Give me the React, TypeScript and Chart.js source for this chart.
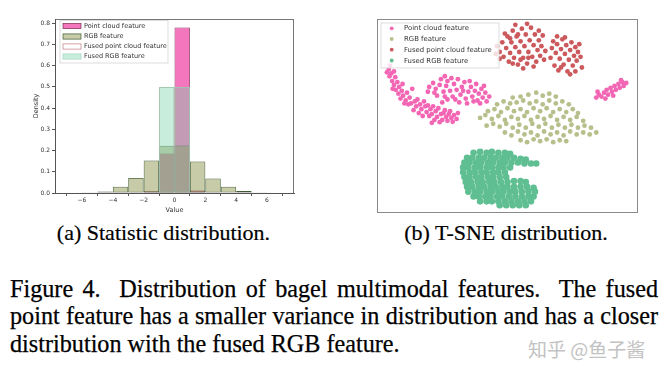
import React, { useEffect, useRef } from "react";
import { Chart, registerables } from "chart.js";
Chart.register(...registerables);

// ---------- Histogram data (bin width 1, bins from -7 to 7) ----------
const binCenters = [-6.5, -5.5, -4.5, -3.5, -2.5, -1.5, -0.5, 0.5, 1.5, 2.5, 3.5, 4.5, 5.5, 6.5];
const pointCloudDensity = [0, 0, 0.001, 0.003, 0.004, 0.008, 0.186, 0.78, 0.012, 0.004, 0.002, 0.001, 0, 0];
const rgbDensity = [0.002, 0.003, 0.007, 0.03, 0.071, 0.153, 0.223, 0.224, 0.149, 0.068, 0.03, 0.01, 0.004, 0.002];
const fusedPointDensity = [0, 0, 0, 0, 0, 0, 0.5, 0.5, 0, 0, 0, 0, 0, 0];
const fusedRgbDensity = [0, 0, 0, 0, 0, 0, 0.5, 0.5, 0, 0, 0, 0, 0, 0];
const histLabels = ["Point cloud feature", "RGB feature", "Fused point cloud feature", "Fused RGB feature"];
const xTickValues = [-6, -4, -2, 0, 2, 4, 6];
const yTickValues = [0, 0.1, 0.2, 0.3, 0.4, 0.5, 0.6, 0.7, 0.8];

// ---------- T-SNE embedding (hand-read, arbitrary units 0..100) ----------
const tsnePointCloud: [number, number][] = [
  [4.5, 74], [5.5, 72], [4.8, 70.5], [6.5, 73], [7, 70], [5.8, 68], [7.8, 67.5], [6.5, 66], [8.5, 65], [7.2, 63.5],
  [9.5, 63], [8.2, 61.5], [10, 60.5], [11.5, 62], [9, 59], [11, 58], [12.5, 59.5], [13.5, 64],
  [5, 76], [3.8, 72.5], [6, 64], [9.8, 66.5], [10.5, 56.5],
  [13, 56.5], [14.5, 57.5], [15, 55], [16.5, 56], [17, 53.5], [18.5, 55], [19, 52], [20.5, 53.5], [21, 51], [22.5, 52.5],
  [23, 49.5], [24.5, 51], [25, 48], [26.5, 49.5], [27, 47.5], [28.5, 49], [29.5, 50.5], [30.5, 48.5], [22, 48], [24, 46.8],
  [26, 53], [28, 52.5], [20, 50], [16, 51.5], [14, 53],
  [15.5, 58.5], [18, 57.5], [17.5, 50], [19.5, 55.5], [21.5, 55], [23.5, 54], [25.5, 51.5], [27.5, 51], [29, 47], [31, 51.5],
  [12, 56], [21, 46.5],
  [20, 65], [21.5, 67], [22.5, 64], [24, 66], [24.5, 69], [25.5, 62.5], [26.5, 65.5], [27, 68], [28, 63], [29, 60],
  [29.5, 66.5], [30.5, 63.5], [31, 69], [32, 61], [32.5, 65], [33.5, 67.5], [34, 59], [35, 62.5], [36, 65], [36.5, 60],
  [37.5, 63], [38.5, 58], [39, 61.5], [40, 64], [40.5, 59.5], [41.5, 62], [42, 57.5], [38, 66.5], [27, 58.5], [31.5, 57],
  [34.5, 56.5], [23, 60.5], [25, 57],
  [22, 62], [26, 60], [28.5, 69.5], [30, 58.5], [33, 63], [35.5, 68], [37, 57.5], [39.5, 56.5], [41, 65.5], [43, 60],
  [19.5, 62.5], [26, 70.5],
  [84, 59.5], [85, 61], [84.5, 62.5], [86, 60], [87, 62], [88, 63.5], [88.5, 61], [89.5, 64.5], [90, 62.5], [91, 65.5],
  [91.5, 63.5], [92.5, 66.5], [93, 64.5], [94, 67.5], [94.5, 65.5], [95.5, 67], [93.5, 68.5], [90.5, 60.5], [87.5, 59],
];
const tsneRgb: [number, number][] = [
  [52, 59.5], [55, 60], [58, 61], [61, 62], [63.5, 60.5], [66, 61.5], [68.5, 60],
  [46, 56], [48.5, 57.5], [51, 56.5], [53.5, 57], [56, 58], [58.5, 56.5], [61, 57.5], [63.5, 56], [66, 58], [68.5, 56.5],
  [71, 57.5], [73.5, 56],
  [42.5, 52.5], [45, 53.5], [47.5, 52], [50, 54], [52.5, 52.5], [55, 53.5], [57.5, 52], [60, 54], [62.5, 52.5], [65, 54],
  [67.5, 52], [70, 53.5], [72.5, 52], [75, 53.5], [77, 51.5],
  [39.5, 49], [41.5, 50.5], [44, 48.5], [46.5, 50], [49, 48], [51.5, 49.5], [54, 48.5], [56.5, 50], [59, 48], [61.5, 49.5],
  [64, 48.5], [66.5, 50], [69, 48], [71.5, 49.5], [74, 48], [76.5, 49.5], [79, 47.5],
  [42, 45], [44.5, 46], [47, 44.5], [49.5, 46], [52, 44], [54.5, 45.5], [57, 44], [59.5, 46], [62, 44.5], [64.5, 46],
  [67, 44], [69.5, 45.5], [72, 44], [74.5, 45.5], [77, 44], [79.5, 45], [82, 44],
  [49, 41.5], [51.5, 40], [54, 42], [56.5, 40.5], [59, 41.5], [61.5, 40], [64, 42], [66.5, 40.5], [69, 41.5], [71.5, 40],
  [74, 42], [76.5, 40.5], [79, 41.5], [81.5, 40.5], [84, 41.5],
  [55, 37.5], [57.5, 36.5], [60, 38], [62.5, 37], [65, 38], [67.5, 36.5], [70, 37.5], [72.5, 37],
];
const tsneFusedPoint: [number, number][] = [
  [46, 86], [47, 83], [48, 88], [48.5, 80.5], [49.5, 85], [50, 91], [50.5, 78], [51, 82.5], [51.5, 88], [52, 94],
  [52.5, 80], [53, 85.5], [53.5, 91], [54, 76.5], [54.5, 83], [55, 88.5], [55.5, 95], [56, 80], [56.5, 86], [57, 92],
  [57.5, 77], [58, 83], [58.5, 89], [59, 95.5], [59.5, 80.5], [60, 86.5], [60.5, 92], [61, 78], [61.5, 84], [62, 89],
  [62.5, 81], [63, 86], [63.5, 91.5], [64, 79], [64.5, 83.5], [53, 97], [57.5, 97.5], [49, 92.5], [55, 79], [60, 75.5],
  [56, 74.5], [52, 77], [58, 80], [51, 90], [62, 94], [54, 92], [47, 79.5], [45.5, 82],
  [66.5, 80], [67, 85], [67.5, 88.5], [68, 76], [68.5, 82.5], [69, 87], [69.5, 73.5], [70, 79.5], [70.5, 84.5], [71, 89.5],
  [71.5, 76.5], [72, 82], [72.5, 86.5], [73, 73], [73.5, 79], [74, 84], [74.5, 88], [75, 76], [75.5, 81], [76, 85.5],
  [76.5, 78.5], [77, 83], [77.5, 87], [78, 80.5], [78.5, 75], [72, 90.5], [69, 91], [74, 71.5], [76, 73], [70.5, 75],
];
const tsneFusedRgb: [number, number][] = [
  [37, 31], [39.5, 31.5], [42, 31], [44, 31.5], [46.5, 31], [49, 31], [51, 30.5],
  [34.5, 28.5], [36.5, 28.5], [39, 28.5], [41, 28.5], [43.5, 28.5], [45.5, 28.5], [48, 28.5], [50, 28.5], [52.5, 28.5], [55, 28], [57, 27.5],
  [33.5, 26], [35.5, 26], [38, 26], [40, 26], [42.5, 26], [44.5, 26], [47, 26], [49, 26], [51.5, 26], [54, 26], [56.5, 25.5], [59, 25.5], [61, 25.5],
  [33, 23.5], [35, 23.5], [37.5, 23.5], [39.5, 23.5], [42, 23.5], [44, 23.5], [46.5, 23.5], [48.5, 23.5], [51, 23.5],
  [33, 21], [35.5, 21], [37.5, 21], [40, 21], [42, 21], [44.5, 21], [46.5, 21], [49, 21],
  [33.5, 18.5], [35.5, 18.5], [38, 18.5], [40, 18.5], [42.5, 18.5], [44.5, 18.5], [47, 18.5], [49.5, 18.5],
  [34, 16], [36, 16], [38.5, 16], [40.5, 16], [43, 16], [45, 16], [47.5, 16], [50, 16], [52.5, 16.5], [55, 16.5], [57, 16],
  [34.5, 13.5], [36.5, 13.5], [39, 13.5], [41, 13.5], [43.5, 13.5], [45.5, 13.5], [48, 13.5], [50, 13.5], [52.5, 13.5], [55, 13.5], [57.5, 13.5], [60, 13],
  [35, 11], [37.5, 11], [39.5, 11], [42, 11], [44, 11], [46.5, 11], [48.5, 11], [51, 11], [53, 11], [55.5, 11], [58, 11], [60.5, 11],
  [37, 8.5], [39, 8.5], [41.5, 8.5], [43.5, 8.5], [46, 8.5], [48, 8.5], [50.5, 8.5], [53, 8.5], [55.5, 8.5], [58, 8.5], [60, 8.5],
  [39.5, 6], [42, 6], [44, 6], [46.5, 6], [49, 6], [51.5, 6], [54, 6], [56.5, 6], [59, 6],
  [47, 4], [49.5, 4], [52, 4], [54.5, 4], [57, 4],
];
const tsneLabels = ["Point cloud feature", "RGB feature", "Fused point cloud feature", "Fused RGB feature"];

const HIST_FILL = ["rgba(240,60,160,0.7)", "rgba(130,140,60,0.45)", "rgba(255,255,255,0)", "rgba(120,210,170,0.4)"];
const HIST_EDGE = ["#7a2f52", "#3f5a35", "#c07a80", "#9fd6bf"];
const TSNE_COLORS = ["#f266b4", "#b7bf8b", "#cc5a5d", "#5fbf92"];

const minus = (v: number) => (v < 0 ? "\u2212" + Math.abs(v) : String(v));

function HistChart() {
  const ref = useRef<HTMLCanvasElement>(null);
  useEffect(() => {
    const series = [pointCloudDensity, rgbDensity, fusedPointDensity, fusedRgbDensity];
    const decor = {
      id: "histDecor",
      afterDraw(chart: any) {
        const ctx = chart.ctx;
        const a = chart.chartArea;
        ctx.save();
        ctx.strokeStyle = "#555";
        ctx.lineWidth = 0.8;
        ctx.strokeRect(a.left + 0.5, a.top + 0.5, a.right - a.left - 1, a.bottom - a.top);
        ctx.fillStyle = "#333";
        ctx.font = "6.5px 'DejaVu Sans'";
        ctx.textAlign = "center";
        ctx.textBaseline = "middle";
        ctx.fillText("Value", (a.left + a.right) / 2, 210);
        ctx.translate(36, (a.top + a.bottom) / 2);
        ctx.rotate(-Math.PI / 2);
        ctx.fillText("Density", 0, 0);
        ctx.restore();
        ctx.save();
        const bx = 60, by = 20.5, bw = 108, bh = 42.5;
        ctx.fillStyle = "rgba(255,255,255,0.8)";
        ctx.strokeStyle = "#d4d4d4";
        ctx.lineWidth = 0.8;
        ctx.fillRect(bx, by, bw, bh);
        ctx.strokeRect(bx, by, bw, bh);
        const rows = [26, 36.5, 46.5, 56.5];
        ctx.font = "6.5px 'DejaVu Sans'";
        ctx.textAlign = "left";
        ctx.textBaseline = "middle";
        histLabels.forEach((lab, i) => {
          const y = rows[i];
          ctx.fillStyle = "#fff";
          ctx.fillRect(63, y - 2.6, 18, 5.2);
          ctx.fillStyle = HIST_FILL[i];
          ctx.fillRect(63, y - 2.6, 18, 5.2);
          ctx.strokeStyle = HIST_EDGE[i];
          ctx.lineWidth = 0.7;
          ctx.strokeRect(63, y - 2.6, 18, 5.2);
          ctx.fillStyle = "#333";
          ctx.fillText(lab, 84, y + 0.3);
        });
        ctx.restore();
      },
    };
    const chart = new Chart(ref.current!, {
      type: "bar",
      data: {
        datasets: series.map((vals, i) => ({
          label: histLabels[i],
          data: binCenters.map((c, j) => ({ x: c, y: vals[j] })),
          backgroundColor: HIST_FILL[i],
          borderColor: HIST_EDGE[i],
          borderWidth: 0.8,
          borderSkipped: false,
          inflateAmount: 0,
          order: 4 - i,
          grouped: false,
          barPercentage: 1,
          categoryPercentage: 1,
        })),
      },
      options: {
        animation: false,
        responsive: false,
        maintainAspectRatio: false,
        layout: { padding: { left: 30, top: 19, right: 6, bottom: 0 } },
        plugins: { legend: { display: false }, tooltip: { enabled: false } },
        scales: {
          x: {
            type: "linear",
            min: -7.75,
            max: 7.75,
            offset: false,
            afterBuildTicks: (s: any) => {
              s.ticks = xTickValues.map((v) => ({ value: v }));
            },
            afterFit: (s: any) => {
              s.height = 27;
            },
            ticks: {
              color: "#333",
              font: { size: 6, family: "DejaVu Sans" },
              padding: 1,
              maxRotation: 0,
              autoSkip: false,
              callback: (v: any) => minus(Number(v)),
            },
            grid: { display: true, drawOnChartArea: false, drawTicks: true, tickLength: 3, color: "#555" },
            border: { display: true, color: "#555" },
          },
          y: {
            type: "linear",
            min: 0,
            max: 0.82,
            afterBuildTicks: (s: any) => {
              s.ticks = yTickValues.map((v) => ({ value: v }));
            },
            afterFit: (s: any) => {
              s.width = 25;
            },
            ticks: {
              color: "#333",
              font: { size: 6, family: "DejaVu Sans" },
              padding: 2,
              autoSkip: false,
              callback: (v: any) => Number(v).toFixed(1),
            },
            grid: { display: true, drawOnChartArea: false, drawTicks: true, tickLength: 3, color: "#555" },
            border: { display: true, color: "#555" },
          },
        },
      },
      plugins: [decor],
    } as any);
    return () => chart.destroy();
  }, []);
  return <canvas ref={ref} width={300} height={220} style={{ position: "absolute", left: 0, top: 0, width: 300, height: 220 }} />;
}

function TsneChart() {
  const ref = useRef<HTMLCanvasElement>(null);
  useEffect(() => {
    const sets = [tsnePointCloud, tsneRgb, tsneFusedPoint, tsneFusedRgb];
    const decor = {
      id: "tsneDecor",
      afterDraw(chart: any) {
        const ctx = chart.ctx;
        const a = chart.chartArea;
        ctx.save();
        ctx.strokeStyle = "#8a8a8a";
        ctx.lineWidth = 1;
        ctx.strokeRect(a.left + 0.5, a.top + 0.5, a.right - a.left - 1, a.bottom - a.top - 1);
        const bx = 21, by = 23, bw = 118, bh = 45;
        ctx.fillStyle = "rgba(255,255,255,0.8)";
        ctx.strokeStyle = "#d4d4d4";
        ctx.lineWidth = 0.8;
        ctx.fillRect(bx, by, bw, bh);
        ctx.strokeRect(bx, by, bw, bh);
        const rows = [28.3, 39, 49.7, 60.5];
        ctx.font = "6.9px 'DejaVu Sans'";
        ctx.textAlign = "left";
        ctx.textBaseline = "middle";
        tsneLabels.forEach((lab, i) => {
          ctx.fillStyle = TSNE_COLORS[i];
          ctx.beginPath();
          ctx.arc(31.7, rows[i], 1.9, 0, Math.PI * 2);
          ctx.fill();
          ctx.fillStyle = "#333";
          ctx.fillText(lab, 44, rows[i] + 0.3);
        });
        ctx.restore();
      },
    };
    const chart = new Chart(ref.current!, {
      type: "scatter",
      data: {
        datasets: sets.map((pts, i) => ({
          label: tsneLabels[i],
          data: pts.map(([x, y]) => ({ x, y })),
          backgroundColor: TSNE_COLORS[i],
          borderWidth: 0,
          pointRadius: i === 3 ? 3.3 : 2.4,
          order: 4 - i,
        })),
      },
      options: {
        animation: false,
        responsive: false,
        maintainAspectRatio: false,
        layout: { padding: { left: 17, top: 19, right: 22, bottom: 7 } },
        plugins: { legend: { display: false }, tooltip: { enabled: false } },
        scales: {
          x: { type: "linear", min: 0, max: 100, display: false },
          y: { type: "linear", min: 0, max: 100, display: false },
        },
      },
      plugins: [decor],
    } as any);
    return () => chart.destroy();
  }, []);
  return <canvas ref={ref} width={300} height={220} style={{ position: "absolute", left: 360, top: 0, width: 300, height: 220 }} />;
}

const serif = "'Liberation Serif', 'Times New Roman', serif";

export default function App() {
  const lineStyle: React.CSSProperties = {
    position: "absolute",
    left: 10,
    width: 648,
    fontFamily: serif,
    fontSize: 24.2,
    lineHeight: "24.2px",
    color: "#000",
    whiteSpace: "nowrap",
    textAlign: "justify",
    textAlignLast: "justify" as any,
    WebkitTextStroke: "0.25px #000",
  };
  const capStyle: React.CSSProperties = {
    position: "absolute",
    top: 222,
    width: 300,
    textAlign: "center",
    fontFamily: serif,
    fontSize: 22,
    lineHeight: "22px",
    color: "#000",
    whiteSpace: "nowrap",
    WebkitTextStroke: "0.2px #000",
  };
  return (
    <div style={{ position: "absolute", left: 0, top: 0, width: 668, height: 373, background: "#fff", overflow: "hidden" }}>
      <HistChart />
      <TsneChart />
      <div style={{ ...capStyle, left: 13.5 }}>(a) Statistic distribution.</div>
      <div style={{ ...capStyle, left: 356 }}>(b) T-SNE distribution.</div>
      <div style={{ ...lineStyle, top: 276.5 }}>Figure 4.&nbsp; Distribution of bagel multimodal features.&nbsp; The fused</div>
      <div style={{ ...lineStyle, top: 304 }}>point feature has a smaller variance in distribution and has a closer</div>
      <div style={{ ...lineStyle, top: 331.5, textAlign: "left", textAlignLast: "left" as any, width: "auto" }}>distribution with the fused RGB feature.</div>
      <div style={{ position: "absolute", left: 528, top: 338, fontFamily: "'Noto Sans CJK SC', sans-serif", fontSize: 19, lineHeight: "22px", color: "#c2c2c2", whiteSpace: "nowrap" }}>
        知乎 @鱼子酱
      </div>
    </div>
  );
}
